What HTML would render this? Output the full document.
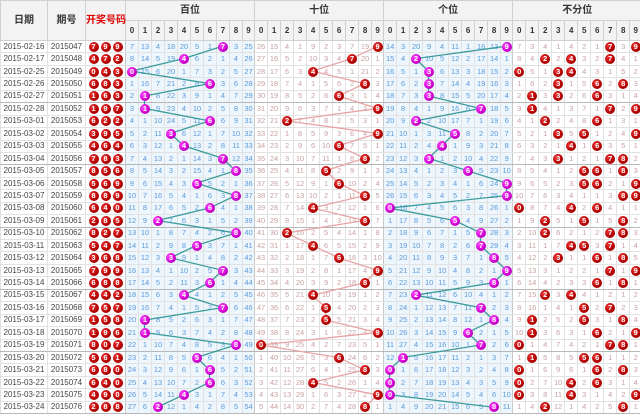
<!DOCTYPE html>
<html><head><meta charset="utf-8"><style>
*{margin:0;padding:0;box-sizing:border-box}
body{width:640px;height:417px;overflow:hidden;background:#fff;position:relative;font-family:"Liberation Sans","Noto Sans CJK SC",sans-serif}
table{border-collapse:collapse;table-layout:fixed;width:641px;position:absolute;left:0;top:0}
td{border:1px solid #e2e2e2;text-align:center;font-size:7.5px;line-height:10px;padding:0;height:12.45px;white-space:nowrap;overflow:visible;color:#c9a0a0}
thead td{background:#f3f3f3;border-color:#d0d0d0;color:#333;font-weight:bold}
thead tr.a td{height:20px;font-size:10px}
thead tr.b td{height:20px;font-size:8px}
.r{color:#e00000!important}
tbody td:nth-child(1),tbody td:nth-child(2){color:#444;font-size:8px;background:#fff}
tbody td:nth-child(3){background:#fff}
tbody td:nth-child(n+4):nth-child(-n+13),tbody td:nth-child(n+24):nth-child(-n+33){background:#eef6fd;color:#5b9ad8}
tbody td:nth-child(3),tbody td:nth-child(13),tbody td:nth-child(23),tbody td:nth-child(33){border-right:1px solid #c8c8c8}
tbody tr:nth-child(5n) td{border-bottom:1px solid #b8b8b8}
i,b{display:inline-block;width:10px;height:10px;border-radius:50%;background:radial-gradient(circle at 35% 35%,#e33,#b00000 60%,#800);color:#fff;font-style:normal;font-weight:bold;font-size:7.5px;line-height:10px;text-align:center;position:relative;z-index:2;vertical-align:middle}
b{margin:0 1px}
tbody td:nth-child(n+4):nth-child(-n+13) i,tbody td:nth-child(n+24):nth-child(-n+33) i{background:radial-gradient(circle at 35% 35%,#f4f,#c0c 60%,#909)}
svg{position:absolute;left:0;top:0;z-index:1;pointer-events:none}
</style></head><body>
<table>
<colgroup><col style="width:47px"><col style="width:38px"><col style="width:40px">
<col style="width:13px"><col style="width:13px"><col style="width:13px"><col style="width:13px"><col style="width:13px"><col style="width:13px"><col style="width:13px"><col style="width:13px"><col style="width:13px"><col style="width:12px">
<col style="width:13px"><col style="width:13px"><col style="width:13px"><col style="width:13px"><col style="width:13px"><col style="width:13px"><col style="width:13px"><col style="width:13px"><col style="width:13px"><col style="width:12px">
<col style="width:13px"><col style="width:13px"><col style="width:13px"><col style="width:13px"><col style="width:13px"><col style="width:13px"><col style="width:13px"><col style="width:13px"><col style="width:13px"><col style="width:12px">
<col style="width:13px"><col style="width:13px"><col style="width:13px"><col style="width:13px"><col style="width:13px"><col style="width:13px"><col style="width:13px"><col style="width:13px"><col style="width:13px"><col style="width:12px">
</colgroup>
<thead>
<tr class="a"><td rowspan="2">日期</td><td rowspan="2">期号</td><td rowspan="2" class="r">开奖号码</td><td colspan="10">百位</td><td colspan="10">十位</td><td colspan="10">个位</td><td colspan="10">不分位</td></tr>
<tr class="b"><td>0</td><td>1</td><td>2</td><td>3</td><td>4</td><td>5</td><td>6</td><td>7</td><td>8</td><td>9</td><td>0</td><td>1</td><td>2</td><td>3</td><td>4</td><td>5</td><td>6</td><td>7</td><td>8</td><td>9</td><td>0</td><td>1</td><td>2</td><td>3</td><td>4</td><td>5</td><td>6</td><td>7</td><td>8</td><td>9</td><td>0</td><td>1</td><td>2</td><td>3</td><td>4</td><td>5</td><td>6</td><td>7</td><td>8</td><td>9</td></tr>
</thead>
<tbody>
<tr><td>2015-02-16</td><td>2015047</td><td><b>7</b><b>9</b><b>9</b></td><td>7</td><td>13</td><td>4</td><td>18</td><td>20</td><td>5</td><td>1</td><td><i>7</i></td><td>3</td><td>25</td><td>26</td><td>15</td><td>4</td><td>1</td><td>9</td><td>2</td><td>3</td><td>7</td><td>19</td><td><i>9</i></td><td>14</td><td>3</td><td>20</td><td>9</td><td>4</td><td>11</td><td>1</td><td>16</td><td>13</td><td><i>9</i></td><td>7</td><td>3</td><td>4</td><td>1</td><td>4</td><td>2</td><td>1</td><td><i>7</i></td><td>3</td><td><i>9</i></td></tr>
<tr><td>2015-02-17</td><td>2015048</td><td><b>4</b><b>7</b><b>2</b></td><td>8</td><td>14</td><td>5</td><td>19</td><td><i>4</i></td><td>6</td><td>2</td><td>1</td><td>4</td><td>26</td><td>27</td><td>16</td><td>5</td><td>2</td><td>10</td><td>3</td><td>4</td><td><i>7</i></td><td>20</td><td>1</td><td>15</td><td>4</td><td><i>2</i></td><td>10</td><td>5</td><td>12</td><td>2</td><td>17</td><td>14</td><td>1</td><td>8</td><td>4</td><td><i>2</i></td><td>2</td><td><i>4</i></td><td>3</td><td>2</td><td><i>7</i></td><td>4</td><td>1</td></tr>
<tr><td>2015-02-25</td><td>2015049</td><td><b>0</b><b>4</b><b>3</b></td><td><i>0</i></td><td>15</td><td>6</td><td>20</td><td>1</td><td>7</td><td>3</td><td>2</td><td>5</td><td>27</td><td>28</td><td>17</td><td>6</td><td>3</td><td><i>4</i></td><td>4</td><td>5</td><td>1</td><td>21</td><td>2</td><td>16</td><td>5</td><td>1</td><td><i>3</i></td><td>6</td><td>13</td><td>3</td><td>18</td><td>15</td><td>2</td><td><i>0</i></td><td>5</td><td>1</td><td><i>3</i></td><td><i>4</i></td><td>4</td><td>3</td><td>1</td><td>5</td><td>2</td></tr>
<tr><td>2015-02-26</td><td>2015050</td><td><b>6</b><b>8</b><b>3</b></td><td>1</td><td>16</td><td>7</td><td>21</td><td>2</td><td>8</td><td><i>6</i></td><td>3</td><td>6</td><td>28</td><td>29</td><td>18</td><td>7</td><td>4</td><td>1</td><td>5</td><td>6</td><td>2</td><td><i>8</i></td><td>3</td><td>17</td><td>6</td><td>2</td><td><i>3</i></td><td>7</td><td>14</td><td>4</td><td>19</td><td>16</td><td>3</td><td>1</td><td>6</td><td>2</td><td><i>3</i></td><td>1</td><td>5</td><td><i>6</i></td><td>2</td><td><i>8</i></td><td>3</td></tr>
<tr><td>2015-02-27</td><td>2015051</td><td><b>1</b><b>6</b><b>3</b></td><td>2</td><td><i>1</i></td><td>8</td><td>22</td><td>3</td><td>9</td><td>1</td><td>4</td><td>7</td><td>29</td><td>30</td><td>19</td><td>8</td><td>5</td><td>2</td><td>6</td><td><i>6</i></td><td>3</td><td>1</td><td>4</td><td>18</td><td>7</td><td>3</td><td><i>3</i></td><td>8</td><td>15</td><td>5</td><td>20</td><td>17</td><td>4</td><td>2</td><td><i>1</i></td><td>3</td><td><i>3</i></td><td>2</td><td>6</td><td><i>6</i></td><td>3</td><td>1</td><td>4</td></tr>
<tr><td>2015-02-28</td><td>2015052</td><td><b>1</b><b>9</b><b>7</b></td><td>3</td><td><i>1</i></td><td>9</td><td>23</td><td>4</td><td>10</td><td>2</td><td>5</td><td>8</td><td>30</td><td>31</td><td>20</td><td>9</td><td>6</td><td>3</td><td>7</td><td>1</td><td>4</td><td>2</td><td><i>9</i></td><td>19</td><td>8</td><td>4</td><td>1</td><td>9</td><td>16</td><td>6</td><td><i>7</i></td><td>18</td><td>5</td><td>3</td><td><i>1</i></td><td>4</td><td>1</td><td>3</td><td>7</td><td>1</td><td><i>7</i></td><td>2</td><td><i>9</i></td></tr>
<tr><td>2015-03-01</td><td>2015053</td><td><b>6</b><b>2</b><b>2</b></td><td>4</td><td>1</td><td>10</td><td>24</td><td>5</td><td>11</td><td><i>6</i></td><td>6</td><td>9</td><td>31</td><td>32</td><td>21</td><td><i>2</i></td><td>7</td><td>4</td><td>8</td><td>2</td><td>5</td><td>3</td><td>1</td><td>20</td><td>9</td><td><i>2</i></td><td>2</td><td>10</td><td>17</td><td>7</td><td>1</td><td>19</td><td>6</td><td>4</td><td>1</td><td><i>2</i></td><td>2</td><td>4</td><td>8</td><td><i>6</i></td><td>1</td><td>3</td><td>1</td></tr>
<tr><td>2015-03-02</td><td>2015054</td><td><b>3</b><b>9</b><b>5</b></td><td>5</td><td>2</td><td>11</td><td><i>3</i></td><td>6</td><td>12</td><td>1</td><td>7</td><td>10</td><td>32</td><td>33</td><td>22</td><td>1</td><td>8</td><td>5</td><td>9</td><td>3</td><td>6</td><td>4</td><td><i>9</i></td><td>21</td><td>10</td><td>1</td><td>3</td><td>11</td><td><i>5</i></td><td>8</td><td>2</td><td>20</td><td>7</td><td>5</td><td>2</td><td>1</td><td><i>3</i></td><td>5</td><td><i>5</i></td><td>1</td><td>2</td><td>4</td><td><i>9</i></td></tr>
<tr><td>2015-03-03</td><td>2015055</td><td><b>4</b><b>6</b><b>4</b></td><td>6</td><td>3</td><td>12</td><td>1</td><td><i>4</i></td><td>13</td><td>2</td><td>8</td><td>11</td><td>33</td><td>34</td><td>23</td><td>2</td><td>9</td><td>6</td><td>10</td><td><i>6</i></td><td>7</td><td>5</td><td>1</td><td>22</td><td>11</td><td>2</td><td>4</td><td><i>4</i></td><td>1</td><td>9</td><td>3</td><td>21</td><td>8</td><td>6</td><td>3</td><td>2</td><td>1</td><td><i>4</i></td><td>1</td><td><i>6</i></td><td>3</td><td>5</td><td>1</td></tr>
<tr><td>2015-03-04</td><td>2015056</td><td><b>7</b><b>8</b><b>3</b></td><td>7</td><td>4</td><td>13</td><td>2</td><td>1</td><td>14</td><td>3</td><td><i>7</i></td><td>12</td><td>34</td><td>35</td><td>24</td><td>3</td><td>10</td><td>7</td><td>11</td><td>1</td><td>8</td><td><i>8</i></td><td>2</td><td>23</td><td>12</td><td>3</td><td><i>3</i></td><td>1</td><td>2</td><td>10</td><td>4</td><td>22</td><td>9</td><td>7</td><td>4</td><td>3</td><td><i>3</i></td><td>1</td><td>2</td><td>1</td><td><i>7</i></td><td><i>8</i></td><td>2</td></tr>
<tr><td>2015-03-05</td><td>2015057</td><td><b>8</b><b>5</b><b>6</b></td><td>8</td><td>5</td><td>14</td><td>3</td><td>2</td><td>15</td><td>4</td><td>1</td><td><i>8</i></td><td>35</td><td>36</td><td>25</td><td>4</td><td>11</td><td>8</td><td><i>5</i></td><td>2</td><td>9</td><td>1</td><td>3</td><td>24</td><td>13</td><td>4</td><td>1</td><td>2</td><td>3</td><td><i>6</i></td><td>5</td><td>23</td><td>10</td><td>8</td><td>5</td><td>4</td><td>1</td><td>2</td><td><i>5</i></td><td><i>6</i></td><td>1</td><td><i>8</i></td><td>3</td></tr>
<tr><td>2015-03-06</td><td>2015058</td><td><b>5</b><b>6</b><b>9</b></td><td>9</td><td>6</td><td>15</td><td>4</td><td>3</td><td><i>5</i></td><td>5</td><td>2</td><td>1</td><td>36</td><td>37</td><td>26</td><td>5</td><td>12</td><td>9</td><td>1</td><td><i>6</i></td><td>10</td><td>2</td><td>4</td><td>25</td><td>14</td><td>5</td><td>2</td><td>3</td><td>4</td><td>1</td><td>6</td><td>24</td><td><i>9</i></td><td>9</td><td>6</td><td>5</td><td>2</td><td>3</td><td><i>5</i></td><td><i>6</i></td><td>2</td><td>1</td><td><i>9</i></td></tr>
<tr><td>2015-03-07</td><td>2015059</td><td><b>8</b><b>8</b><b>9</b></td><td>10</td><td>7</td><td>16</td><td>5</td><td>4</td><td>1</td><td>6</td><td>3</td><td><i>8</i></td><td>37</td><td>38</td><td>27</td><td>6</td><td>13</td><td>10</td><td>2</td><td>1</td><td>11</td><td><i>8</i></td><td>5</td><td>26</td><td>15</td><td>6</td><td>3</td><td>4</td><td>5</td><td>2</td><td>7</td><td>25</td><td><i>9</i></td><td>10</td><td>7</td><td>6</td><td>3</td><td>4</td><td>1</td><td>1</td><td>3</td><td><i>8</i></td><td><i>9</i></td></tr>
<tr><td>2015-03-08</td><td>2015060</td><td><b>6</b><b>4</b><b>0</b></td><td>11</td><td>8</td><td>17</td><td>6</td><td>5</td><td>2</td><td><i>6</i></td><td>4</td><td>1</td><td>38</td><td>39</td><td>28</td><td>7</td><td>14</td><td><i>4</i></td><td>3</td><td>2</td><td>12</td><td>1</td><td>6</td><td><i>0</i></td><td>16</td><td>7</td><td>4</td><td>5</td><td>6</td><td>3</td><td>8</td><td>26</td><td>1</td><td><i>0</i></td><td>8</td><td>7</td><td>4</td><td><i>4</i></td><td>2</td><td><i>6</i></td><td>4</td><td>1</td><td>1</td></tr>
<tr><td>2015-03-09</td><td>2015061</td><td><b>2</b><b>8</b><b>5</b></td><td>12</td><td>9</td><td><i>2</i></td><td>7</td><td>6</td><td>3</td><td>1</td><td>5</td><td>2</td><td>39</td><td>40</td><td>29</td><td>8</td><td>15</td><td>1</td><td>4</td><td>3</td><td>13</td><td><i>8</i></td><td>7</td><td>1</td><td>17</td><td>8</td><td>5</td><td>6</td><td><i>5</i></td><td>4</td><td>9</td><td>27</td><td>2</td><td>1</td><td>9</td><td><i>2</i></td><td>5</td><td>1</td><td><i>5</i></td><td>1</td><td>5</td><td><i>8</i></td><td>2</td></tr>
<tr><td>2015-03-10</td><td>2015062</td><td><b>8</b><b>2</b><b>7</b></td><td>13</td><td>10</td><td>1</td><td>8</td><td>7</td><td>4</td><td>2</td><td>6</td><td><i>8</i></td><td>40</td><td>41</td><td>30</td><td><i>2</i></td><td>16</td><td>2</td><td>5</td><td>4</td><td>14</td><td>1</td><td>8</td><td>2</td><td>18</td><td>9</td><td>6</td><td>7</td><td>1</td><td>5</td><td><i>7</i></td><td>28</td><td>3</td><td>2</td><td>10</td><td><i>2</i></td><td>6</td><td>2</td><td>1</td><td>2</td><td><i>7</i></td><td><i>8</i></td><td>3</td></tr>
<tr><td>2015-03-11</td><td>2015063</td><td><b>5</b><b>4</b><b>7</b></td><td>14</td><td>11</td><td>2</td><td>9</td><td>8</td><td><i>5</i></td><td>3</td><td>7</td><td>1</td><td>41</td><td>42</td><td>31</td><td>1</td><td>17</td><td><i>4</i></td><td>6</td><td>5</td><td>15</td><td>2</td><td>9</td><td>3</td><td>19</td><td>10</td><td>7</td><td>8</td><td>2</td><td>6</td><td><i>7</i></td><td>29</td><td>4</td><td>3</td><td>11</td><td>1</td><td>7</td><td><i>4</i></td><td><i>5</i></td><td>3</td><td><i>7</i></td><td>1</td><td>4</td></tr>
<tr><td>2015-03-12</td><td>2015064</td><td><b>3</b><b>6</b><b>8</b></td><td>15</td><td>12</td><td>3</td><td><i>3</i></td><td>9</td><td>1</td><td>4</td><td>8</td><td>2</td><td>42</td><td>43</td><td>32</td><td>2</td><td>18</td><td>1</td><td>7</td><td><i>6</i></td><td>16</td><td>3</td><td>10</td><td>4</td><td>20</td><td>11</td><td>8</td><td>9</td><td>3</td><td>7</td><td>1</td><td><i>8</i></td><td>5</td><td>4</td><td>12</td><td>2</td><td><i>3</i></td><td>1</td><td>1</td><td><i>6</i></td><td>1</td><td><i>8</i></td><td>5</td></tr>
<tr><td>2015-03-13</td><td>2015065</td><td><b>7</b><b>9</b><b>9</b></td><td>16</td><td>13</td><td>4</td><td>1</td><td>10</td><td>2</td><td>5</td><td><i>7</i></td><td>3</td><td>43</td><td>44</td><td>33</td><td>3</td><td>19</td><td>2</td><td>8</td><td>1</td><td>17</td><td>4</td><td><i>9</i></td><td>5</td><td>21</td><td>12</td><td>9</td><td>10</td><td>4</td><td>8</td><td>2</td><td>1</td><td><i>9</i></td><td>5</td><td>13</td><td>3</td><td>1</td><td>2</td><td>2</td><td>1</td><td><i>7</i></td><td>1</td><td><i>9</i></td></tr>
<tr><td>2015-03-14</td><td>2015066</td><td><b>6</b><b>8</b><b>8</b></td><td>17</td><td>14</td><td>5</td><td>2</td><td>11</td><td>3</td><td><i>6</i></td><td>1</td><td>4</td><td>44</td><td>45</td><td>34</td><td>4</td><td>20</td><td>3</td><td>9</td><td>2</td><td>18</td><td><i>8</i></td><td>1</td><td>6</td><td>22</td><td>13</td><td>10</td><td>11</td><td>5</td><td>9</td><td>3</td><td><i>8</i></td><td>1</td><td>6</td><td>14</td><td>4</td><td>2</td><td>3</td><td>3</td><td><i>6</i></td><td>1</td><td><i>8</i></td><td>1</td></tr>
<tr><td>2015-03-15</td><td>2015067</td><td><b>4</b><b>4</b><b>2</b></td><td>18</td><td>15</td><td>6</td><td>3</td><td><i>4</i></td><td>4</td><td>1</td><td>2</td><td>5</td><td>45</td><td>46</td><td>35</td><td>5</td><td>21</td><td><i>4</i></td><td>10</td><td>3</td><td>19</td><td>1</td><td>2</td><td>7</td><td>23</td><td><i>2</i></td><td>11</td><td>12</td><td>6</td><td>10</td><td>4</td><td>1</td><td>2</td><td>7</td><td>15</td><td><i>2</i></td><td>3</td><td><i>4</i></td><td>4</td><td>1</td><td>2</td><td>1</td><td>2</td></tr>
<tr><td>2015-03-16</td><td>2015068</td><td><b>7</b><b>5</b><b>7</b></td><td>19</td><td>16</td><td>7</td><td>4</td><td>1</td><td>5</td><td>2</td><td><i>7</i></td><td>6</td><td>46</td><td>47</td><td>36</td><td>6</td><td>22</td><td>1</td><td><i>5</i></td><td>4</td><td>20</td><td>2</td><td>3</td><td>8</td><td>24</td><td>1</td><td>12</td><td>13</td><td>7</td><td>11</td><td><i>7</i></td><td>2</td><td>3</td><td>8</td><td>16</td><td>1</td><td>4</td><td>1</td><td><i>5</i></td><td>2</td><td><i>7</i></td><td>2</td><td>3</td></tr>
<tr><td>2015-03-17</td><td>2015069</td><td><b>1</b><b>5</b><b>8</b></td><td>20</td><td><i>1</i></td><td>8</td><td>5</td><td>2</td><td>6</td><td>3</td><td>1</td><td>7</td><td>47</td><td>48</td><td>37</td><td>7</td><td>23</td><td>2</td><td><i>5</i></td><td>5</td><td>21</td><td>3</td><td>4</td><td>9</td><td>25</td><td>2</td><td>13</td><td>14</td><td>8</td><td>12</td><td>1</td><td><i>8</i></td><td>4</td><td>9</td><td><i>1</i></td><td>2</td><td>5</td><td>2</td><td><i>5</i></td><td>3</td><td>1</td><td><i>8</i></td><td>4</td></tr>
<tr><td>2015-03-18</td><td>2015070</td><td><b>1</b><b>9</b><b>6</b></td><td>21</td><td><i>1</i></td><td>9</td><td>6</td><td>3</td><td>7</td><td>4</td><td>2</td><td>8</td><td>48</td><td>49</td><td>38</td><td>8</td><td>24</td><td>3</td><td>1</td><td>6</td><td>22</td><td>4</td><td><i>9</i></td><td>10</td><td>26</td><td>3</td><td>14</td><td>15</td><td>9</td><td><i>6</i></td><td>2</td><td>1</td><td>5</td><td>10</td><td><i>1</i></td><td>3</td><td>6</td><td>3</td><td>1</td><td><i>6</i></td><td>2</td><td>1</td><td><i>9</i></td></tr>
<tr><td>2015-03-19</td><td>2015071</td><td><b>8</b><b>0</b><b>7</b></td><td>22</td><td>1</td><td>10</td><td>7</td><td>4</td><td>8</td><td>5</td><td>3</td><td><i>8</i></td><td>49</td><td><i>0</i></td><td>39</td><td>9</td><td>25</td><td>4</td><td>2</td><td>7</td><td>23</td><td>5</td><td>1</td><td>11</td><td>27</td><td>4</td><td>15</td><td>16</td><td>10</td><td>1</td><td><i>7</i></td><td>2</td><td>6</td><td><i>0</i></td><td>1</td><td>4</td><td>7</td><td>4</td><td>2</td><td>1</td><td><i>7</i></td><td><i>8</i></td><td>1</td></tr>
<tr><td>2015-03-20</td><td>2015072</td><td><b>5</b><b>6</b><b>1</b></td><td>23</td><td>2</td><td>11</td><td>8</td><td>5</td><td><i>5</i></td><td>6</td><td>4</td><td>1</td><td>50</td><td>1</td><td>40</td><td>10</td><td>26</td><td>5</td><td>3</td><td><i>6</i></td><td>24</td><td>6</td><td>2</td><td>12</td><td><i>1</i></td><td>5</td><td>16</td><td>17</td><td>11</td><td>2</td><td>1</td><td>3</td><td>7</td><td>1</td><td><i>1</i></td><td>5</td><td>8</td><td>5</td><td><i>5</i></td><td><i>6</i></td><td>1</td><td>1</td><td>2</td></tr>
<tr><td>2015-03-21</td><td>2015073</td><td><b>6</b><b>8</b><b>0</b></td><td>24</td><td>3</td><td>12</td><td>9</td><td>6</td><td>1</td><td><i>6</i></td><td>5</td><td>2</td><td>51</td><td>2</td><td>41</td><td>11</td><td>27</td><td>6</td><td>4</td><td>1</td><td>25</td><td><i>8</i></td><td>3</td><td><i>0</i></td><td>1</td><td>6</td><td>17</td><td>18</td><td>12</td><td>3</td><td>2</td><td>4</td><td>8</td><td><i>0</i></td><td>1</td><td>6</td><td>9</td><td>6</td><td>1</td><td><i>6</i></td><td>2</td><td><i>8</i></td><td>3</td></tr>
<tr><td>2015-03-22</td><td>2015074</td><td><b>6</b><b>4</b><b>0</b></td><td>25</td><td>4</td><td>13</td><td>10</td><td>7</td><td>2</td><td><i>6</i></td><td>6</td><td>3</td><td>52</td><td>3</td><td>42</td><td>12</td><td>28</td><td><i>4</i></td><td>5</td><td>2</td><td>26</td><td>1</td><td>4</td><td><i>0</i></td><td>2</td><td>7</td><td>18</td><td>19</td><td>13</td><td>4</td><td>3</td><td>5</td><td>9</td><td><i>0</i></td><td>2</td><td>7</td><td>10</td><td><i>4</i></td><td>2</td><td><i>6</i></td><td>3</td><td>1</td><td>4</td></tr>
<tr><td>2015-03-23</td><td>2015075</td><td><b>4</b><b>9</b><b>0</b></td><td>26</td><td>5</td><td>14</td><td>11</td><td><i>4</i></td><td>3</td><td>1</td><td>7</td><td>4</td><td>53</td><td>4</td><td>43</td><td>13</td><td>29</td><td>1</td><td>6</td><td>3</td><td>27</td><td>2</td><td><i>9</i></td><td><i>0</i></td><td>3</td><td>8</td><td>19</td><td>20</td><td>14</td><td>5</td><td>4</td><td>6</td><td>10</td><td><i>0</i></td><td>3</td><td>8</td><td>11</td><td><i>4</i></td><td>3</td><td>1</td><td>4</td><td>2</td><td><i>9</i></td></tr>
<tr><td>2015-03-24</td><td>2015076</td><td><b>2</b><b>8</b><b>8</b></td><td>27</td><td>6</td><td><i>2</i></td><td>12</td><td>1</td><td>4</td><td>2</td><td>8</td><td>5</td><td>54</td><td>5</td><td>44</td><td>14</td><td>30</td><td>2</td><td>7</td><td>4</td><td>28</td><td><i>8</i></td><td>1</td><td>1</td><td>4</td><td>9</td><td>20</td><td>21</td><td>15</td><td>6</td><td>5</td><td><i>8</i></td><td>11</td><td>1</td><td>4</td><td><i>2</i></td><td>12</td><td>1</td><td>4</td><td>2</td><td>5</td><td><i>8</i></td><td>1</td></tr>
</tbody>
</table>
<svg width="640" height="417" viewBox="0 0 640 417">
<g fill="none" stroke-width="1.3">
<polyline vector-effect="non-scaling-stroke" stroke="#3a9c9c" transform="translate(131.5,46.2) scale(13,12.45)" points="7,0 4,1 0,2 6,3 1,4 1,5 6,6 3,7 4,8 7,9 8,10 5,11 8,12 6,13 2,14 8,15 5,16 3,17 7,18 6,19 4,20 7,21 1,22 1,23 8,24 5,25 6,26 6,27 4,28 2,29"/>
<polyline vector-effect="non-scaling-stroke" stroke="#e8a4a4" transform="translate(260.5,46.2) scale(13,12.45)" points="9,0 7,1 4,2 8,3 6,4 9,5 2,6 9,7 6,8 8,9 5,10 6,11 8,12 4,13 8,14 2,15 4,16 6,17 9,18 8,19 4,20 5,21 5,22 9,23 0,24 6,25 8,26 4,27 9,28 8,29"/>
<polyline vector-effect="non-scaling-stroke" stroke="#3a9c9c" transform="translate(389.5,46.2) scale(13,12.45)" points="9,0 2,1 3,2 3,3 3,4 7,5 2,6 5,7 4,8 3,9 6,10 9,11 9,12 0,13 5,14 7,15 7,16 8,17 9,18 8,19 2,20 7,21 8,22 6,23 7,24 1,25 0,26 0,27 0,28 8,29"/>
</g>
</svg>
</body></html>
